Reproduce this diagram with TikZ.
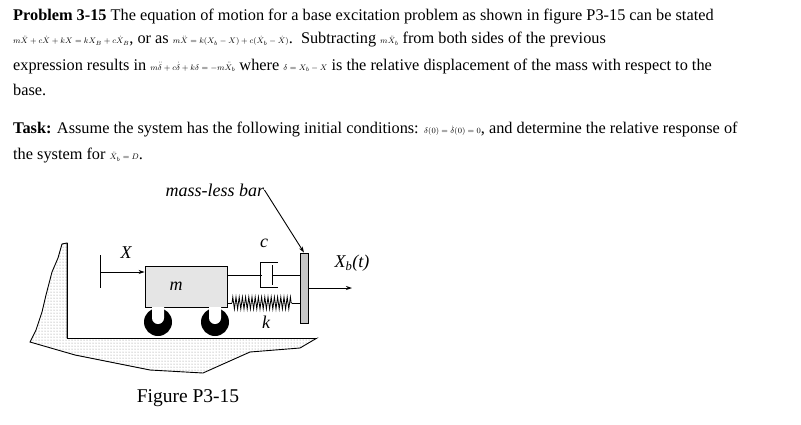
\documentclass[tikz,border=0pt]{standalone}
\usepackage{amsmath}
\usepackage{fontspec}
\setmainfont{Liberation Serif}
\usetikzlibrary{arrows.meta,decorations.pathmorphing,patterns}
\begin{document}
\begin{tikzpicture}[x=1pt,y=-1pt,
  txt/.style={anchor=west,inner sep=0pt,font=\fontsize{16.3}{19}\selectfont},
  lbl/.style={inner sep=0pt,font=\fontsize{18}{20}\selectfont\itshape},
  ln/.style={line width=0.9pt},
  arr/.style={ln,-{Stealth[length=6pt,width=4pt]}}]
\useasboundingbox (0,0) rectangle (801,424);
\def\m#1{{\footnotesize$#1$}}
\node[txt] (l1) at (13,17) {\textbf{Problem 3-15} The equation of motion for a base excitation problem as shown in figure P3-15 can be stated};
\node[txt] (l2) at (13,40) {\m{m\ddot X+c\dot X+kX=kX_B+c\dot X_B}, or as \m{m\ddot X=k(X_b-X)+c(\dot X_b-\dot X)}.\, Subtracting \m{m\ddot X_b} from both sides of the previous};
\node[txt] (l3) at (13,66) {expression results in \m{m\ddot\delta+c\dot\delta+k\delta=-m\ddot X_b} where \m{\delta=X_b-X} is the relative displacement of the mass with respect to the};
\node[txt] (l4) at (13,90) {base.};
\node[txt] (l5) at (13,130) {\textbf{Task:} Assume the system has the following initial conditions: \m{\delta(0)=\dot\delta(0)=0}, and determine the relative response of};
\node[txt] (l6) at (13,156) {the system for \m{\ddot X_b=D}.};
% ground
\path[pattern=dots,pattern color=gray,draw,ln]
 (62,244) -- (67,243) -- (67,338) -- (317,338) -- (300,348) -- (250,352) -- (203,373) -- (150,370) -- (110,362) -- (75,355) -- (30,342)
 -- (36,330) -- (42,312) -- (46,295) -- (52,272) -- (58,258) -- cycle;
\fill[white] (67,243) rectangle (317,338);
\draw[ln] (67,243) -- (67,338) -- (317,338);
% X marker
\draw[ln] (100,255) -- (100,288);
\coordinate (xs) at (100,272);
\node[lbl] (xl) at (126,253) {X};
% mass
\node[draw,ln,fill=gray!20,minimum width=82pt,minimum height=41pt,inner sep=0pt] (mass) at (186,286.5) {};
\node[lbl] (ml) at (176,286) {m};
\draw[arr] (xs) -- (mass.west |- xs);
% wheels
\foreach \cx/\nm in {158/w1,215/w2}{
  \node[circle,fill=black,minimum size=28pt,inner sep=0pt] (\nm) at (\cx,322) {};
  \fill[white] (\cx-6,307) -- (\cx-6,318) arc[start angle=180,end angle=0,radius=6] -- (\cx+6,307) -- cycle;
}
% bar
\node[draw,ln,fill=gray!45,minimum width=8pt,minimum height=70pt,inner sep=0pt] (bar) at (304,288) {};
% damper
\coordinate (d1) at (227,275);
\draw[ln] (d1) -- (262,275);
\draw[ln] (278,262) -- (260,262) -- (260,287) -- (278,287);
\draw[ln] (272,265) -- (272,285);
\draw[ln] (272,275) -- (bar.west |- 0,275);
\node[lbl] (cl) at (264,243) {c};
% spring
\draw[ln] (227,303) -- (232,303);
\draw[line width=0.8pt,decorate,decoration={zigzag,segment length=3.2pt,amplitude=6pt}] (232,303) -- (292,303);
\draw[ln] (292,303) -- (bar.west |- 0,303);
\node[lbl] (kl) at (266,322) {k};
% Xb
\coordinate (xbend) at (352,288);
\draw[arr] (bar.east |- xbend) -- (xbend);
\node[lbl] (xbl) at (352,263) {X\textsubscript{b}(t)};
% bar label
\node[lbl] (mb) at (215,190) {mass-less bar};
\draw[arr] (mb.east) -- (bar.north);
\node[inner sep=0pt,font=\fontsize{19.5}{22}\selectfont] (fig) at (188,398) {Figure P3-15};
\end{tikzpicture}
\end{document}
